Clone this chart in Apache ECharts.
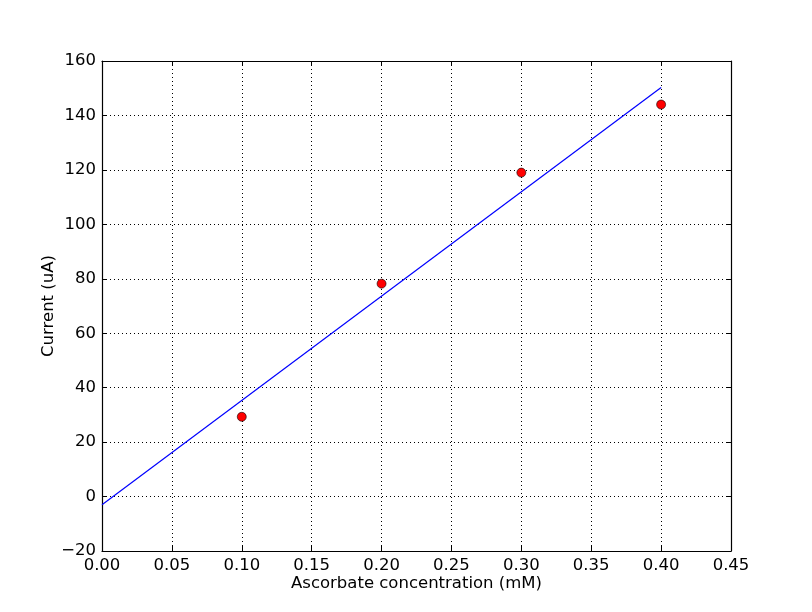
<!DOCTYPE html>
<html>
<head>
<meta charset="utf-8">
<script src="https://cdn.jsdelivr.net/npm/echarts@6/dist/echarts.min.js"></script>
<style>
  html, body { margin: 0; padding: 0; background: #fff; }
  #chart { width: 812px; height: 612px; }
</style>
</head>
<body>
<div id="chart"></div>
<script>
// measured points
var concentration = [0.1, 0.2, 0.3, 0.4];
var current = [29.3, 78.2, 119, 144];
// fitted line end points
var fitX = [0, 0.4];
var fitY = [-3, 150.3];

var xTicks = { min: 0, max: 0.45, interval: 0.05 };
var yTicks = { min: -20, max: 160, interval: 20 };

var font = 'DejaVu Sans';
var fsize = 16.5;

function minus(v) {
  return String(v).replace('-', '\u2212');
}

function axisCommon(extra) {
  var base = {
    axisLine: { show: true, onZero: false, lineStyle: { color: '#000', width: 1.2 } },
    axisTick: { show: true, inside: true, length: 5, lineStyle: { color: '#000' } },
    splitLine: { show: false },
    axisLabel: { show: false }
  };
  return Object.assign(base, extra);
}

var chart = echarts.init(document.getElementById('chart'));

chart.setOption({
  backgroundColor: '#fff',
  animation: false,
  grid: { left: 102, right: 81, top: 61, bottom: 61, containLabel: false },
  xAxis: [
    axisCommon({
      type: 'value',
      min: xTicks.min, max: xTicks.max, interval: xTicks.interval,
      position: 'bottom',
      name: 'Ascorbate concentration (mM)',
      nameLocation: 'middle',
      nameGap: 24,
      nameMoveOverlap: false,
      nameTextStyle: { fontFamily: font, fontSize: fsize, color: '#000' },
      splitLine: { show: true, lineStyle: { color: '#000', type: [1, 3], width: 1 } },
      axisLabel: {
        show: true, margin: 6, color: '#000', fontFamily: font, fontSize: fsize,
        formatter: function (v) { return v.toFixed(2); }
      }
    }),
    axisCommon({
      type: 'value',
      min: xTicks.min, max: xTicks.max, interval: xTicks.interval,
      position: 'top'
    })
  ],
  yAxis: [
    axisCommon({
      type: 'value',
      min: yTicks.min, max: yTicks.max, interval: yTicks.interval,
      position: 'left',
      name: 'Current (uA)',
      nameLocation: 'middle',
      nameGap: 45,
      nameMoveOverlap: false,
      nameTextStyle: { fontFamily: font, fontSize: fsize, color: '#000' },
      splitLine: { show: true, lineStyle: { color: '#000', type: [1, 3], width: 1 } },
      axisLabel: {
        show: true, margin: 6, color: '#000', fontFamily: font, fontSize: fsize,
        formatter: function (v) { return minus(v); }
      }
    }),
    axisCommon({
      type: 'value',
      min: yTicks.min, max: yTicks.max, interval: yTicks.interval,
      position: 'right'
    })
  ],
  series: [
    {
      name: 'fit',
      type: 'line',
      data: fitX.map(function (x, i) { return [x, fitY[i]]; }),
      showSymbol: false,
      symbol: 'none',
      lineStyle: { color: '#0000ff', width: 1.2 },
      z: 3
    },
    {
      name: 'data',
      type: 'scatter',
      data: concentration.map(function (x, i) { return [x, current[i]]; }),
      symbol: 'circle',
      symbolSize: 9,
      itemStyle: { color: '#ff0000', borderColor: '#000', borderWidth: 0.6, opacity: 1 },
      z: 4
    }
  ]
});
</script>
</body>
</html>
